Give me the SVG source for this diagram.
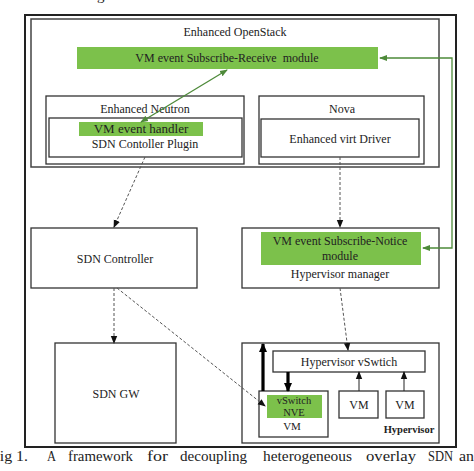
<svg xmlns="http://www.w3.org/2000/svg" width="474" height="471" viewBox="0 0 474 471">
<style>
text{font-family:"Liberation Serif","Times New Roman",serif;fill:#222;font-size:12px;text-anchor:middle}
.box{fill:#fff;stroke:#333;stroke-width:1.3}
.grn{fill:#7cc14b;stroke:none}
.dash{fill:none;stroke:#555;stroke-width:1;stroke-dasharray:3,2}
.gline{fill:none;stroke:#4e8a3a;stroke-width:1.3}
.thick{fill:none;stroke:#000;stroke-width:3.2}
.thin{fill:none;stroke:#222;stroke-width:1}
.cap{font-size:15.5px;text-anchor:start}
</style>
<defs>
<marker id="ah" markerUnits="userSpaceOnUse" markerWidth="8" markerHeight="8" viewBox="0 0 8 8" refX="7" refY="4" orient="auto"><path d="M0,0.8 L8,4 L0,7.2 Z" fill="#111"/></marker>
<marker id="ahg" markerUnits="userSpaceOnUse" markerWidth="8" markerHeight="8" viewBox="0 0 8 8" refX="7" refY="4" orient="auto-start-reverse"><path d="M0,1 L8,4 L0,7 Z" fill="#4e8a3a"/></marker>
<marker id="ahk" markerUnits="userSpaceOnUse" markerWidth="9" markerHeight="9" viewBox="0 0 9 9" refX="8" refY="4.5" orient="auto"><path d="M0,0.5 L9,4.5 L0,8.5 Z" fill="#000"/></marker>
</defs>
<rect width="474" height="471" fill="#fff"/>
<text x="97" y="0" style="font-size:15px;text-anchor:start">g</text>
<g id="frame"><rect x="25" y="15" width="431" height="432" fill="none" stroke="#222" stroke-width="2"/></g>
<g id="openstack"><rect x="31" y="19" width="408" height="148" fill="none" stroke="#444" stroke-width="1.5"/><text x="235" y="36">Enhanced OpenStack</text></g>
<g id="receive"><rect class="grn" x="77" y="47" width="301" height="22"/><text x="227" y="62" style="white-space:pre">VM event Subscribe-Receive  module</text></g>
<g id="neutron"><rect class="box" x="46" y="96" width="198" height="68"/><text x="145" y="113">Enhanced Neutron</text>
<rect class="box" x="49" y="118" width="193" height="39"/></g>
<g id="handler"><rect class="grn" x="79" y="122" width="124" height="14"/><text x="141" y="133" style="font-size:13px">VM event handler</text><text x="145" y="148">SDN Contoller Plugin</text></g>
<g id="nova"><rect class="box" x="259" y="96" width="165" height="68"/><text x="342" y="113">Nova</text>
<rect class="box" x="261" y="119" width="158" height="38"/><text x="340" y="143">Enhanced virt Driver</text></g>
<g id="sdnc"><rect class="box" x="31" y="228" width="166" height="60"/><text x="115" y="263">SDN Controller</text></g>
<g id="hypmgr"><rect class="box" x="242" y="228" width="197" height="60"/><rect class="grn" x="261" y="232" width="160" height="33"/>
<text x="340" y="245">VM event Subscribe-Notice</text><text x="340" y="260">module</text><text x="340" y="278">Hypervisor manager</text></g>
<g id="sdngw"><rect class="box" x="55" y="343" width="121" height="100"/><text x="116" y="398">SDN GW</text></g>
<g id="hypervisor"><rect class="box" x="242" y="343" width="197" height="100"/><text x="409" y="433" style="font-weight:bold;font-size:10.5px">Hypervisor</text></g>
<g id="hvswitch"><rect class="box" x="273" y="351" width="152" height="21"/><text x="349" y="366">Hypervisor vSwtich</text></g>
<g id="vm1"><rect class="box" x="259" y="391" width="69" height="46"/><rect class="grn" x="267" y="395" width="55" height="23"/>
<text x="294" y="404" style="font-size:10.5px">vSwitch</text><text x="294" y="416" style="font-size:10.5px">NVE</text><text x="292" y="430" style="font-size:11px">VM</text></g>
<g id="vm2"><rect class="box" x="339" y="391" width="39" height="27"/><text x="359" y="409">VM</text></g>
<g id="vm3"><rect class="box" x="386" y="391" width="38" height="27"/><text x="405" y="409">VM</text></g>
<g id="connectors">
<path class="gline" d="M141,122 L227,70" marker-start="url(#ahg)" marker-end="url(#ahg)"/>
<path class="gline" d="M380,58 H452 V248 H423" marker-start="url(#ahg)" marker-end="url(#ahg)"/>
<path class="dash" d="M145,157 L114,227" marker-end="url(#ah)"/>
<path class="dash" d="M340,157 L340,227" marker-end="url(#ah)"/>
<path class="dash" d="M114,288 L114,343" marker-end="url(#ah)"/>
<path class="dash" d="M117,288 L265,406" marker-end="url(#ah)"/>
<path class="dash" d="M340,288 L348,350" marker-end="url(#ah)"/>
<path class="thick" d="M263,391 V344" marker-end="url(#ahk)"/>
<path class="thick" d="M288,372 V391" marker-end="url(#ahk)"/>
<path class="thin" d="M359,391 V372" marker-end="url(#ah)"/>
<path class="thin" d="M404,391 V372" marker-end="url(#ah)"/>
</g>
<g id="caption">
<text class="cap" x="-9" y="461" textLength="37" lengthAdjust="spacingAndGlyphs">Fig 1.</text>
<text class="cap" x="47" y="461" textLength="9" lengthAdjust="spacingAndGlyphs">A</text>
<text class="cap" x="68" y="461" textLength="65" lengthAdjust="spacingAndGlyphs">framework</text>
<text class="cap" x="147" y="461" textLength="21" lengthAdjust="spacingAndGlyphs">for</text>
<text class="cap" x="180" y="461" textLength="67" lengthAdjust="spacingAndGlyphs">decoupling</text>
<text class="cap" x="263" y="461" textLength="89" lengthAdjust="spacingAndGlyphs">heterogeneous</text>
<text class="cap" x="366" y="461" textLength="50" lengthAdjust="spacingAndGlyphs">overlay</text>
<text class="cap" x="428" y="461" textLength="25" lengthAdjust="spacingAndGlyphs">SDN</text>
<text class="cap" x="459" y="461" textLength="15" lengthAdjust="spacingAndGlyphs">an</text>
</g>
</svg>
